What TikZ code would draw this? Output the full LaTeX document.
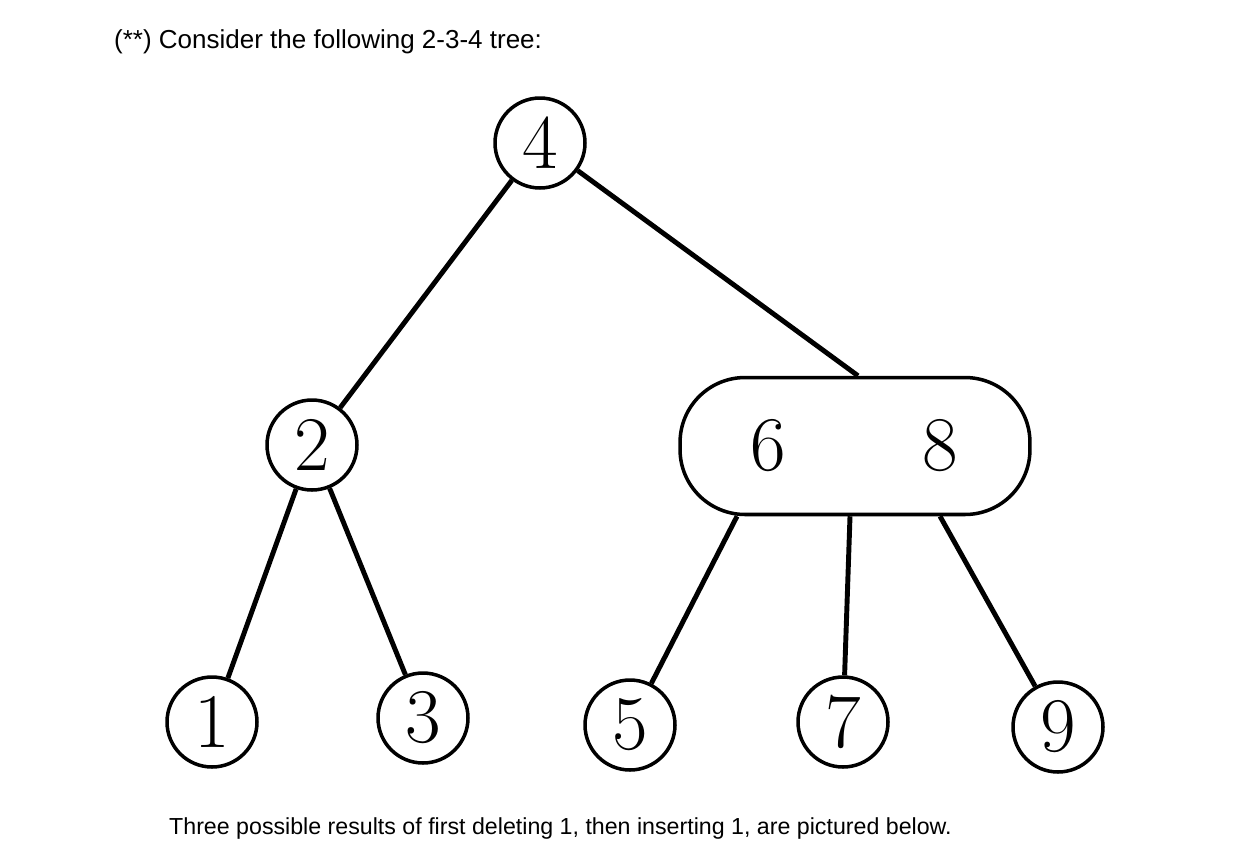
\documentclass[tikz,border=0pt]{standalone}
\usepackage{fontspec}
\newfontfamily\sans{Liberation Sans}
\begin{document}
\begin{tikzpicture}[x=0.02cm,y=-0.02cm,
  leaf/.style={circle,draw,line width=2pt,minimum size=1.8cm,inner sep=0pt,font=\fontsize{44}{50}\selectfont},
  edge/.style={line width=2.8pt}]
\useasboundingbox (0,0) rectangle (1243,860);
\node[anchor=west,font=\sans\fontsize{14.8}{18}\selectfont] (title) at (108,42) {(**) Consider the following 2-3-4 tree:};
\node[leaf] (n4) at (540,143) {4};
\node[leaf] (n2) at (312,445) {2};
\node[draw,line width=2pt,rounded corners=1.3cm,minimum width=7cm,minimum height=2.74cm,inner sep=0pt,font=\fontsize{44}{50}\selectfont] (r) at (855,446) {};
\node[font=\fontsize{44}{50}\selectfont] (t6) at (768,446) {6};
\node[font=\fontsize{44}{50}\selectfont] (t8) at (940,446) {8};
\node[leaf] (n1) at (212,722) {1};
\node[leaf] (n3) at (423,718) {3};
\node[leaf] (n5) at (630,725) {5};
\node[leaf] (n7) at (843,722) {7};
\node[leaf] (n9) at (1058,727) {9};
\draw[edge] (n4) -- (n2);
\draw[edge] (n4) -- ([xshift=0.06cm]r.north);
\draw[edge] (n2) -- (n1);
\draw[edge] (n2) -- (n3);
\draw[edge] ([xshift=-2.36cm]r.south) -- (n5);
\draw[edge] ([xshift=-0.1cm]r.south) -- (n7);
\draw[edge] ([xshift=1.7cm]r.south) -- (n9);
\node[anchor=west,font=\sans\fontsize{13.2}{16}\selectfont] (cap) at (163,828) {Three possible results of first deleting 1, then inserting 1, are pictured below.};
\end{tikzpicture}
\end{document}
